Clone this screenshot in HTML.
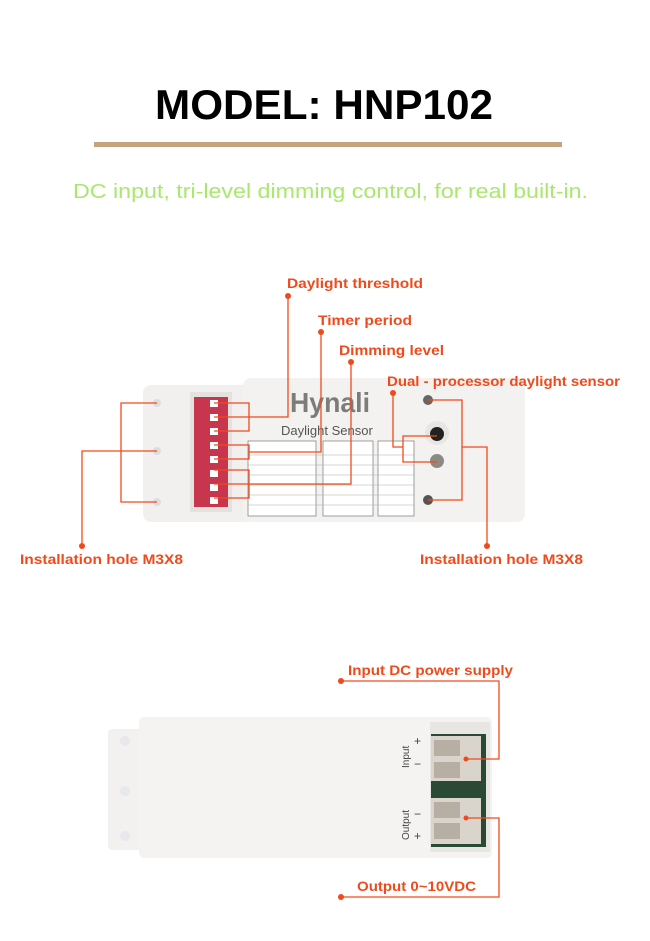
<!DOCTYPE html>
<html><head><meta charset="utf-8"><style>
html,body{margin:0;padding:0;background:#fff;}
svg{display:block}
text{font-family:"Liberation Sans",sans-serif;}
.o{fill:#f04a1c;font-weight:bold;font-size:14px;}
</style></head><body>
<svg width="650" height="941" viewBox="0 0 650 941" xmlns="http://www.w3.org/2000/svg">
<rect width="650" height="941" fill="#fff"/>
<text x="155" y="119" font-size="42" font-weight="bold" fill="#000" textLength="338" lengthAdjust="spacingAndGlyphs">MODEL: HNP102</text>
<rect x="94" y="142" width="468" height="5" fill="#c4a47e"/>
<text x="73" y="198" font-size="20" fill="#a8e86c" textLength="515" lengthAdjust="spacingAndGlyphs">DC input, tri-level dimming control,  for real built-in.</text>

<!-- top device -->
<rect x="143" y="385" width="110" height="137" rx="8" fill="#f1f0ee"/>
<rect x="243" y="378" width="282" height="144" rx="8" fill="#f3f2f0"/>
<rect x="190" y="392" width="42" height="120" fill="#e4e2df"/>
<rect x="194" y="397" width="34" height="110" fill="#c8364e"/>
<g fill="#fff">
<rect x="210" y="400" width="8" height="7"/><rect x="210" y="414" width="8" height="7"/><rect x="210" y="428" width="8" height="7"/><rect x="210" y="442" width="8" height="7"/><rect x="210" y="456" width="8" height="7"/><rect x="210" y="470" width="8" height="7"/><rect x="210" y="484" width="8" height="7"/><rect x="210" y="497" width="8" height="7"/>
</g>
<circle cx="157" cy="403" r="4" fill="#ddd"/><circle cx="157" cy="451" r="4" fill="#ddd"/><circle cx="157" cy="502" r="4" fill="#ddd"/>
<text x="290" y="412" font-size="28" font-weight="bold" fill="#7c7c7c" textLength="80" lengthAdjust="spacingAndGlyphs">Hynali</text>
<text x="281" y="435" font-size="13" fill="#555">Daylight Sensor</text>
<rect x="248" y="441" width="68" height="75" fill="#fff" stroke="#888" stroke-width="0.8"/>
<rect x="323" y="441" width="50" height="75" fill="#fff" stroke="#888" stroke-width="0.8"/>
<rect x="378" y="441" width="36" height="75" fill="#fff" stroke="#888" stroke-width="0.8"/>
<g stroke="#aaa" stroke-width="0.6">
<line x1="248" y1="455" x2="414" y2="455"/><line x1="248" y1="465" x2="414" y2="465"/><line x1="248" y1="475" x2="414" y2="475"/><line x1="248" y1="485" x2="414" y2="485"/><line x1="248" y1="495" x2="414" y2="495"/><line x1="248" y1="505" x2="414" y2="505"/>
</g>
<ellipse cx="437" cy="433" rx="12" ry="12" fill="#e8e6e3"/><circle cx="437" cy="434" r="7" fill="#222"/>
<circle cx="437" cy="461" r="7" fill="#8d8a86"/>
<circle cx="428" cy="400" r="5" fill="#666"/><circle cx="428" cy="500" r="5" fill="#555"/>

<g stroke="#f04a1c" stroke-width="1.3" fill="none">
<path d="M288 296 V417 H214"/>
<path d="M214 403 H249 V431 H214"/>
<path d="M321 332 V452 H249"/>
<path d="M214 445 H249 V459 H214"/>
<path d="M351 362 V484 H214"/>
<path d="M214 470 H249 V498 H214"/>
<path d="M393 393 V447 H403"/>
<path d="M437 436 H403 V462 H437"/>
<path d="M82 546 V451 H157"/>
<path d="M157 403 H121 V502 H157"/>
<path d="M487 546 V447 H462"/>
<path d="M428 400 H462 V500 H428"/>
</g>
<g fill="#f04a1c">
<circle cx="288" cy="296" r="3"/><circle cx="321" cy="332" r="3"/><circle cx="351" cy="362" r="3"/><circle cx="393" cy="393" r="3"/><circle cx="82" cy="546" r="3"/><circle cx="487" cy="546" r="3"/>
</g>
<text class="o" x="287" y="288" textLength="136" lengthAdjust="spacingAndGlyphs">Daylight threshold</text>
<text class="o" x="318" y="325" textLength="94" lengthAdjust="spacingAndGlyphs">Timer period</text>
<text class="o" x="339" y="355" textLength="105" lengthAdjust="spacingAndGlyphs">Dimming level</text>
<text class="o" x="387" y="386" textLength="233" lengthAdjust="spacingAndGlyphs">Dual - processor daylight sensor</text>
<text class="o" x="20" y="564" textLength="163" lengthAdjust="spacingAndGlyphs">Installation hole M3X8</text>
<text class="o" x="420" y="564" textLength="163" lengthAdjust="spacingAndGlyphs">Installation hole M3X8</text>

<!-- bottom device -->
<rect x="108" y="729" width="40" height="121" rx="4" fill="#f2f1ef"/>
<circle cx="125" cy="741" r="5" fill="#e7e7ee"/><circle cx="125" cy="791" r="5" fill="#e7e7ee"/><circle cx="125" cy="836" r="5" fill="#e7e7ee"/>
<rect x="139" y="717" width="353" height="141" rx="5" fill="#f4f3f1"/>
<rect x="430" y="722" width="60" height="130" fill="#e8e6e2"/>
<rect x="431" y="734" width="55" height="113" fill="#2b4a36"/>
<rect x="431" y="736" width="50" height="45" fill="#d9d4cc"/>
<rect x="431" y="798" width="50" height="46" fill="#d9d4cc"/>
<g fill="#b7afa3"><rect x="434" y="740" width="26" height="16"/><rect x="434" y="762" width="26" height="16"/><rect x="434" y="802" width="26" height="16"/><rect x="434" y="823" width="26" height="16"/></g>
<text font-size="10" fill="#444" transform="translate(409 768) rotate(-90)">Input</text>
<text font-size="10" fill="#444" transform="translate(409 840) rotate(-90)">Output</text>
<text x="414" y="745" font-size="12" fill="#444">+</text><text x="414" y="768" font-size="12" fill="#444">−</text>
<text x="414" y="818" font-size="12" fill="#444">−</text><text x="414" y="840" font-size="12" fill="#444">+</text>
<g stroke="#f04a1c" stroke-width="1.3" fill="none">
<path d="M341 681 H499 V759 H466"/>
<path d="M341 897 H499 V818 H466"/>
</g>
<g fill="#f04a1c"><circle cx="341" cy="681" r="3"/><circle cx="341" cy="897" r="3"/><circle cx="466" cy="759" r="2.5"/><circle cx="466" cy="818" r="2.5"/></g>
<text class="o" x="348" y="675" textLength="165" lengthAdjust="spacingAndGlyphs">Input DC power supply</text>
<text class="o" x="357" y="891" textLength="119" lengthAdjust="spacingAndGlyphs">Output 0~10VDC</text>
</svg>
</body></html>
